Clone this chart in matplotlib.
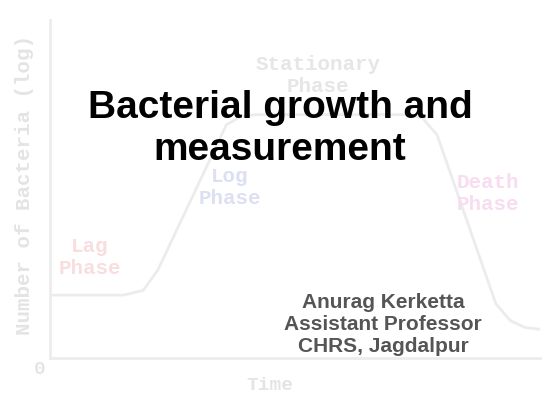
import matplotlib
matplotlib.use("Agg")
import matplotlib.pyplot as plt

curve_x = [0, 1.5, 1.9, 2.2, 3.6, 3.9, 4.2, 7.3, 7.6, 7.9, 9.1, 9.4, 9.7, 10]
curve_y = [1.86, 1.86, 2.0, 2.6, 6.9, 7.15, 7.2, 7.2, 7.1, 6.6, 1.6, 1.1, 0.9, 0.85]

fig = plt.figure(figsize=(5.6, 4.2), dpi=100)
ax = fig.add_axes([50/560, 62/420, 490/560, 338/420])
ax.plot(curve_x, curve_y, color="#ececec", lw=2)
ax.set_xlim(0, 10); ax.set_ylim(0, 10)
ax.set_xticks([]); ax.set_yticks([])
for s in ["top", "right"]:
    ax.spines[s].set_visible(False)
for s in ["left", "bottom"]:
    ax.spines[s].set_color("#ececec"); ax.spines[s].set_linewidth(2)

mono = "Liberation Mono"
fig.text(0.043, 1-185/420, "Number of Bacteria (log)", rotation=90, ha="center", va="center",
         family=mono, fontsize=15, color="#e4e4e4", fontweight="bold")
fig.text(270/560, 1-385/420, "Time", ha="center", va="center", family=mono, fontsize=14, color="#e4e4e4", fontweight="bold")
fig.text(40/560, 1-370/420, "0", ha="center", va="center", family=mono, fontsize=14, color="#e4e4e4", fontweight="bold")
fig.text(90/560, 1-258/420, "Lag\nPhase", ha="center", va="center", family=mono, fontsize=15, color="#f8dede", fontweight="bold", linespacing=1.2)
fig.text(230/560, 1-188/420, "Log\nPhase", ha="center", va="center", family=mono, fontsize=15, color="#dde0f2", fontweight="bold", linespacing=1.2)
fig.text(318/560, 1-75/420, "Stationary\nPhase", ha="center", va="center", family=mono, fontsize=15, color="#e6e6e6", fontweight="bold", linespacing=1.2)
fig.text(488/560, 1-194/420, "Death\nPhase", ha="center", va="center", family=mono, fontsize=15, color="#f8dcef", fontweight="bold", linespacing=1.2)

fig.text(280/560, 1-129/420, "Bacterial growth and\nmeasurement", ha="center", va="center",
         family="Liberation Sans", fontsize=28, fontweight="bold", color="black", linespacing=1.25)
fig.text(383/560, 1-325/420, "Anurag Kerketta\nAssistant Professor\nCHRS, Jagdalpur", ha="center", va="center",
         family="Liberation Sans", fontsize=15, fontweight="bold", color="#555555", linespacing=1.2)
fig.savefig("out.png", dpi=100)
